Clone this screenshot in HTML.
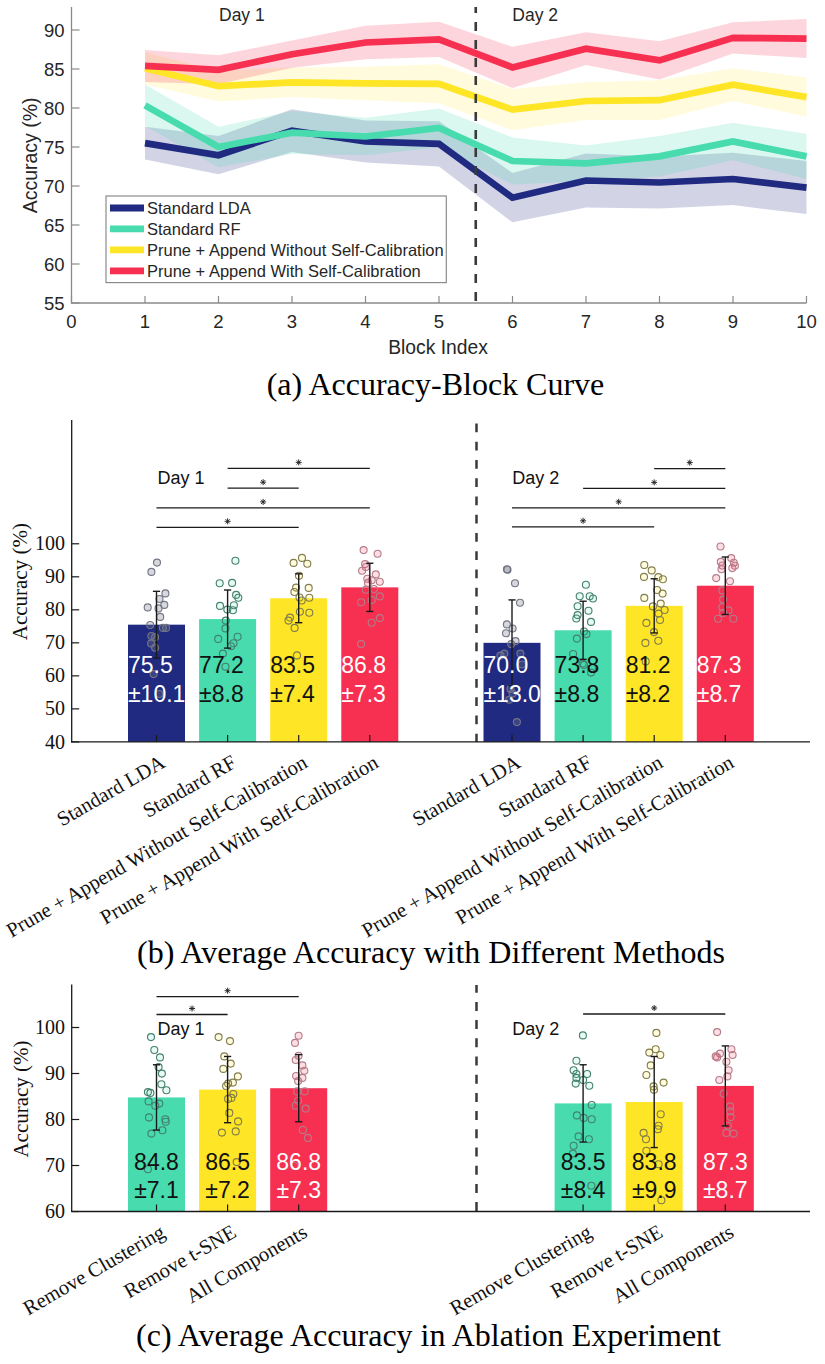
<!DOCTYPE html>
<html><head><meta charset="utf-8"><style>
html,body{margin:0;padding:0;background:#fff;}
body{width:825px;height:1364px;overflow:hidden;}
svg{display:block;}
</style></head><body>
<svg width="825" height="1364" viewBox="0 0 825 1364">
<rect width="825" height="1364" fill="#fff"/>
<g id="pa">
<polygon points="145.0,126.7 218.5,136.1 292.0,109.2 365.5,120.5 439.0,121.3 512.5,173.1 586.0,153.6 659.5,156.4 733.0,152.8 806.5,161.0 806.5,214.1 733.0,205.1 659.5,208.6 586.0,207.4 512.5,222.3 439.0,166.5 365.5,162.6 292.0,152.1 218.5,174.3 145.0,159.5" fill="#1f2a80" fill-opacity="0.2" stroke="none"/>
<polygon points="145.0,84.6 218.5,126.7 292.0,111.1 365.5,117.8 439.0,108.4 512.5,137.6 586.0,145.4 659.5,136.1 733.0,122.8 806.5,133.7 806.5,179.0 733.0,160.3 659.5,176.6 586.0,181.3 512.5,184.4 439.0,147.4 365.5,155.2 292.0,154.0 218.5,167.3 145.0,125.9" fill="#47dbae" fill-opacity="0.2" stroke="none"/>
<polygon points="145.0,52.2 218.5,71.0 292.0,67.4 365.5,66.7 439.0,64.3 512.5,88.9 586.0,82.3 659.5,80.3 733.0,68.2 806.5,77.6 806.5,116.6 733.0,101.0 659.5,120.1 586.0,119.7 512.5,130.2 439.0,103.3 365.5,100.2 292.0,97.1 218.5,101.4 145.0,84.2" fill="#fee526" fill-opacity="0.16" stroke="none"/>
<polygon points="145.0,49.9 218.5,55.3 292.0,40.5 365.5,25.7 439.0,21.8 512.5,46.8 586.0,32.3 659.5,41.3 733.0,22.2 806.5,19.1 806.5,58.1 733.0,53.4 659.5,79.5 586.0,65.1 512.5,88.1 439.0,56.9 365.5,59.2 292.0,67.8 218.5,84.2 145.0,81.9" fill="#f72f50" fill-opacity="0.2" stroke="none"/>
<polyline points="145.0,143.1 218.5,155.2 292.0,130.6 365.5,141.5 439.0,143.9 512.5,197.7 586.0,180.5 659.5,182.5 733.0,179.0 806.5,187.6" fill="none" stroke="#1f2a80" stroke-width="6.7" stroke-linejoin="miter"/>
<polyline points="145.0,105.3 218.5,147.0 292.0,132.6 365.5,136.5 439.0,127.9 512.5,161.0 586.0,163.4 659.5,156.4 733.0,141.5 806.5,156.4" fill="none" stroke="#47dbae" stroke-width="6.7" stroke-linejoin="miter"/>
<polyline points="145.0,68.2 218.5,86.2 292.0,82.3 365.5,83.4 439.0,83.8 512.5,109.6 586.0,101.0 659.5,100.2 733.0,84.6 806.5,97.1" fill="none" stroke="#fee526" stroke-width="6.7" stroke-linejoin="miter"/>
<polyline points="145.0,65.9 218.5,69.8 292.0,54.2 365.5,42.5 439.0,39.4 512.5,67.4 586.0,48.7 659.5,60.4 733.0,37.8 806.5,38.6" fill="none" stroke="#f72f50" stroke-width="6.7" stroke-linejoin="miter"/>
<line x1="475.75" y1="7.00" x2="475.75" y2="303.00" stroke="#3a3a3a" stroke-width="2.6" stroke-dasharray="9,9" stroke-dashoffset="3"/>
<line x1="71.50" y1="7.00" x2="71.50" y2="303.50" stroke="#8a8a8a" stroke-width="1.3" />
<line x1="71.00" y1="303.00" x2="806.50" y2="303.00" stroke="#8a8a8a" stroke-width="1.3" />
<line x1="71.50" y1="303.00" x2="79.50" y2="303.00" stroke="#8a8a8a" stroke-width="1.2" />
<text x="64.50" y="309.80" font-family='"Liberation Sans", sans-serif' font-size="18.5" text-anchor="end" fill="#262626" >55</text>
<line x1="71.50" y1="264.00" x2="79.50" y2="264.00" stroke="#8a8a8a" stroke-width="1.2" />
<text x="64.50" y="270.80" font-family='"Liberation Sans", sans-serif' font-size="18.5" text-anchor="end" fill="#262626" >60</text>
<line x1="71.50" y1="225.00" x2="79.50" y2="225.00" stroke="#8a8a8a" stroke-width="1.2" />
<text x="64.50" y="231.80" font-family='"Liberation Sans", sans-serif' font-size="18.5" text-anchor="end" fill="#262626" >65</text>
<line x1="71.50" y1="186.00" x2="79.50" y2="186.00" stroke="#8a8a8a" stroke-width="1.2" />
<text x="64.50" y="192.80" font-family='"Liberation Sans", sans-serif' font-size="18.5" text-anchor="end" fill="#262626" >70</text>
<line x1="71.50" y1="147.00" x2="79.50" y2="147.00" stroke="#8a8a8a" stroke-width="1.2" />
<text x="64.50" y="153.80" font-family='"Liberation Sans", sans-serif' font-size="18.5" text-anchor="end" fill="#262626" >75</text>
<line x1="71.50" y1="108.00" x2="79.50" y2="108.00" stroke="#8a8a8a" stroke-width="1.2" />
<text x="64.50" y="114.80" font-family='"Liberation Sans", sans-serif' font-size="18.5" text-anchor="end" fill="#262626" >80</text>
<line x1="71.50" y1="69.00" x2="79.50" y2="69.00" stroke="#8a8a8a" stroke-width="1.2" />
<text x="64.50" y="75.80" font-family='"Liberation Sans", sans-serif' font-size="18.5" text-anchor="end" fill="#262626" >85</text>
<line x1="71.50" y1="30.00" x2="79.50" y2="30.00" stroke="#8a8a8a" stroke-width="1.2" />
<text x="64.50" y="36.80" font-family='"Liberation Sans", sans-serif' font-size="18.5" text-anchor="end" fill="#262626" >90</text>
<line x1="71.50" y1="303.00" x2="71.50" y2="296.00" stroke="#8a8a8a" stroke-width="1.2" />
<text x="71.50" y="327.80" font-family='"Liberation Sans", sans-serif' font-size="18.5" text-anchor="middle" fill="#262626" >0</text>
<line x1="145.00" y1="303.00" x2="145.00" y2="296.00" stroke="#8a8a8a" stroke-width="1.2" />
<text x="145.00" y="327.80" font-family='"Liberation Sans", sans-serif' font-size="18.5" text-anchor="middle" fill="#262626" >1</text>
<line x1="218.50" y1="303.00" x2="218.50" y2="296.00" stroke="#8a8a8a" stroke-width="1.2" />
<text x="218.50" y="327.80" font-family='"Liberation Sans", sans-serif' font-size="18.5" text-anchor="middle" fill="#262626" >2</text>
<line x1="292.00" y1="303.00" x2="292.00" y2="296.00" stroke="#8a8a8a" stroke-width="1.2" />
<text x="292.00" y="327.80" font-family='"Liberation Sans", sans-serif' font-size="18.5" text-anchor="middle" fill="#262626" >3</text>
<line x1="365.50" y1="303.00" x2="365.50" y2="296.00" stroke="#8a8a8a" stroke-width="1.2" />
<text x="365.50" y="327.80" font-family='"Liberation Sans", sans-serif' font-size="18.5" text-anchor="middle" fill="#262626" >4</text>
<line x1="439.00" y1="303.00" x2="439.00" y2="296.00" stroke="#8a8a8a" stroke-width="1.2" />
<text x="439.00" y="327.80" font-family='"Liberation Sans", sans-serif' font-size="18.5" text-anchor="middle" fill="#262626" >5</text>
<line x1="512.50" y1="303.00" x2="512.50" y2="296.00" stroke="#8a8a8a" stroke-width="1.2" />
<text x="512.50" y="327.80" font-family='"Liberation Sans", sans-serif' font-size="18.5" text-anchor="middle" fill="#262626" >6</text>
<line x1="586.00" y1="303.00" x2="586.00" y2="296.00" stroke="#8a8a8a" stroke-width="1.2" />
<text x="586.00" y="327.80" font-family='"Liberation Sans", sans-serif' font-size="18.5" text-anchor="middle" fill="#262626" >7</text>
<line x1="659.50" y1="303.00" x2="659.50" y2="296.00" stroke="#8a8a8a" stroke-width="1.2" />
<text x="659.50" y="327.80" font-family='"Liberation Sans", sans-serif' font-size="18.5" text-anchor="middle" fill="#262626" >8</text>
<line x1="733.00" y1="303.00" x2="733.00" y2="296.00" stroke="#8a8a8a" stroke-width="1.2" />
<text x="733.00" y="327.80" font-family='"Liberation Sans", sans-serif' font-size="18.5" text-anchor="middle" fill="#262626" >9</text>
<line x1="806.50" y1="303.00" x2="806.50" y2="296.00" stroke="#8a8a8a" stroke-width="1.2" />
<text x="806.50" y="327.80" font-family='"Liberation Sans", sans-serif' font-size="18.5" text-anchor="middle" fill="#262626" >10</text>
<text x="438.00" y="354.20" font-family='"Liberation Sans", sans-serif' font-size="19.3" text-anchor="middle" fill="#262626" >Block Index</text>
<text x="37.00" y="155.40" font-family='"Liberation Sans", sans-serif' font-size="19.5" text-anchor="middle" fill="#262626" transform="rotate(-90 37 155.4)">Accuracy (%)</text>
<text x="219.00" y="20.70" font-family='"Liberation Sans", sans-serif' font-size="17.5" text-anchor="start" fill="#262626" >Day 1</text>
<text x="512.30" y="21.00" font-family='"Liberation Sans", sans-serif' font-size="17.5" text-anchor="start" fill="#262626" >Day 2</text>
<rect x="106" y="196" width="340.3" height="86.6" fill="#fff" stroke="#8c8c8c" stroke-width="1.2"/>
<line x1="110.00" y1="208.00" x2="144.00" y2="208.00" stroke="#1f2a80" stroke-width="6.8" />
<text x="147.00" y="214.10" font-family='"Liberation Sans", sans-serif' font-size="16.5" text-anchor="start" fill="#262626" >Standard LDA</text>
<line x1="110.00" y1="228.95" x2="144.00" y2="228.95" stroke="#47dbae" stroke-width="6.8" />
<text x="147.00" y="235.05" font-family='"Liberation Sans", sans-serif' font-size="16.5" text-anchor="start" fill="#262626" >Standard RF</text>
<line x1="110.00" y1="249.90" x2="144.00" y2="249.90" stroke="#fee526" stroke-width="6.8" />
<text x="147.00" y="256.00" font-family='"Liberation Sans", sans-serif' font-size="16.5" text-anchor="start" fill="#262626" >Prune + Append Without Self-Calibration</text>
<line x1="110.00" y1="270.85" x2="144.00" y2="270.85" stroke="#f72f50" stroke-width="6.8" />
<text x="147.00" y="276.95" font-family='"Liberation Sans", sans-serif' font-size="16.5" text-anchor="start" fill="#262626" >Prune + Append With Self-Calibration</text>
</g>
<text x="435.50" y="395.00" font-family='"Liberation Serif", serif' font-size="32" text-anchor="middle" fill="#000" >(a) Accuracy-Block Curve</text>
<rect x="128.00" y="624.68" width="57.0" height="117.22" fill="#1f2a80"/>
<rect x="199.10" y="619.07" width="57.0" height="122.83" fill="#47dbae"/>
<rect x="270.20" y="598.26" width="57.0" height="143.64" fill="#fee526"/>
<rect x="341.30" y="587.37" width="57.0" height="154.53" fill="#f72f50"/>
<rect x="483.50" y="642.84" width="57.0" height="99.06" fill="#1f2a80"/>
<rect x="554.60" y="630.29" width="57.0" height="111.61" fill="#47dbae"/>
<rect x="625.70" y="605.86" width="57.0" height="136.04" fill="#fee526"/>
<rect x="696.80" y="585.72" width="57.0" height="156.18" fill="#f72f50"/>
<circle cx="157.0" cy="562.6" r="3.5" fill="#7c7e90" fill-opacity="0.3" stroke="#737584" stroke-width="1.1"/>
<circle cx="151.4" cy="571.9" r="3.5" fill="#7c7e90" fill-opacity="0.3" stroke="#737584" stroke-width="1.1"/>
<circle cx="165.4" cy="593.4" r="3.5" fill="#7c7e90" fill-opacity="0.3" stroke="#737584" stroke-width="1.1"/>
<circle cx="159.5" cy="599.0" r="3.5" fill="#7c7e90" fill-opacity="0.3" stroke="#737584" stroke-width="1.1"/>
<circle cx="164.3" cy="604.9" r="3.5" fill="#7c7e90" fill-opacity="0.3" stroke="#737584" stroke-width="1.1"/>
<circle cx="147.7" cy="607.4" r="3.5" fill="#7c7e90" fill-opacity="0.3" stroke="#737584" stroke-width="1.1"/>
<circle cx="158.5" cy="608.4" r="3.5" fill="#7c7e90" fill-opacity="0.3" stroke="#737584" stroke-width="1.1"/>
<circle cx="160.2" cy="616.9" r="3.5" fill="#7c7e90" fill-opacity="0.3" stroke="#737584" stroke-width="1.1"/>
<circle cx="150.2" cy="625.0" r="3.5" fill="#7c7e90" fill-opacity="0.3" stroke="#737584" stroke-width="1.1"/>
<circle cx="162.9" cy="627.9" r="3.5" fill="#7c7e90" fill-opacity="0.3" stroke="#737584" stroke-width="1.1"/>
<circle cx="166.1" cy="627.9" r="3.5" fill="#7c7e90" fill-opacity="0.3" stroke="#737584" stroke-width="1.1"/>
<circle cx="151.4" cy="636.0" r="3.5" fill="#7c7e90" fill-opacity="0.3" stroke="#737584" stroke-width="1.1"/>
<circle cx="155.1" cy="637.2" r="3.5" fill="#7c7e90" fill-opacity="0.3" stroke="#737584" stroke-width="1.1"/>
<circle cx="151.1" cy="643.6" r="3.5" fill="#7c7e90" fill-opacity="0.3" stroke="#737584" stroke-width="1.1"/>
<circle cx="155.1" cy="647.7" r="3.5" fill="#7c7e90" fill-opacity="0.3" stroke="#737584" stroke-width="1.1"/>
<circle cx="153.6" cy="674.1" r="3.5" fill="#7c7e90" fill-opacity="0.3" stroke="#737584" stroke-width="1.1"/>
<circle cx="159.5" cy="694.0" r="3.5" fill="#7c7e90" fill-opacity="0.3" stroke="#737584" stroke-width="1.1"/>
<circle cx="235.4" cy="560.8" r="3.5" fill="#47dbae" fill-opacity="0.13" stroke="#45806c" stroke-width="1.1"/>
<circle cx="219.7" cy="583.2" r="3.5" fill="#47dbae" fill-opacity="0.13" stroke="#45806c" stroke-width="1.1"/>
<circle cx="232.1" cy="582.9" r="3.5" fill="#47dbae" fill-opacity="0.13" stroke="#45806c" stroke-width="1.1"/>
<circle cx="236.1" cy="594.9" r="3.5" fill="#47dbae" fill-opacity="0.13" stroke="#45806c" stroke-width="1.1"/>
<circle cx="238.3" cy="597.8" r="3.5" fill="#47dbae" fill-opacity="0.13" stroke="#45806c" stroke-width="1.1"/>
<circle cx="220.0" cy="605.9" r="3.5" fill="#47dbae" fill-opacity="0.13" stroke="#45806c" stroke-width="1.1"/>
<circle cx="233.9" cy="605.2" r="3.5" fill="#47dbae" fill-opacity="0.13" stroke="#45806c" stroke-width="1.1"/>
<circle cx="227.3" cy="609.6" r="3.5" fill="#47dbae" fill-opacity="0.13" stroke="#45806c" stroke-width="1.1"/>
<circle cx="232.9" cy="610.3" r="3.5" fill="#47dbae" fill-opacity="0.13" stroke="#45806c" stroke-width="1.1"/>
<circle cx="225.8" cy="620.6" r="3.5" fill="#47dbae" fill-opacity="0.13" stroke="#45806c" stroke-width="1.1"/>
<circle cx="225.5" cy="628.4" r="3.5" fill="#47dbae" fill-opacity="0.13" stroke="#45806c" stroke-width="1.1"/>
<circle cx="218.2" cy="638.9" r="3.5" fill="#47dbae" fill-opacity="0.13" stroke="#45806c" stroke-width="1.1"/>
<circle cx="237.6" cy="636.7" r="3.5" fill="#47dbae" fill-opacity="0.13" stroke="#45806c" stroke-width="1.1"/>
<circle cx="233.5" cy="643.3" r="3.5" fill="#47dbae" fill-opacity="0.13" stroke="#45806c" stroke-width="1.1"/>
<circle cx="231.0" cy="646.3" r="3.5" fill="#47dbae" fill-opacity="0.13" stroke="#45806c" stroke-width="1.1"/>
<circle cx="222.9" cy="653.6" r="3.5" fill="#47dbae" fill-opacity="0.13" stroke="#45806c" stroke-width="1.1"/>
<circle cx="225.5" cy="666.8" r="3.5" fill="#47dbae" fill-opacity="0.13" stroke="#45806c" stroke-width="1.1"/>
<circle cx="293.6" cy="562.9" r="3.5" fill="#fee526" fill-opacity="0.16" stroke="#807c4c" stroke-width="1.1"/>
<circle cx="302.0" cy="557.9" r="3.5" fill="#fee526" fill-opacity="0.16" stroke="#807c4c" stroke-width="1.1"/>
<circle cx="307.3" cy="563.8" r="3.5" fill="#fee526" fill-opacity="0.16" stroke="#807c4c" stroke-width="1.1"/>
<circle cx="299.0" cy="575.8" r="3.5" fill="#fee526" fill-opacity="0.16" stroke="#807c4c" stroke-width="1.1"/>
<circle cx="296.1" cy="587.6" r="3.5" fill="#fee526" fill-opacity="0.16" stroke="#807c4c" stroke-width="1.1"/>
<circle cx="308.7" cy="587.9" r="3.5" fill="#fee526" fill-opacity="0.16" stroke="#807c4c" stroke-width="1.1"/>
<circle cx="294.4" cy="592.0" r="3.5" fill="#fee526" fill-opacity="0.16" stroke="#807c4c" stroke-width="1.1"/>
<circle cx="299.5" cy="597.5" r="3.5" fill="#fee526" fill-opacity="0.16" stroke="#807c4c" stroke-width="1.1"/>
<circle cx="309.3" cy="597.8" r="3.5" fill="#fee526" fill-opacity="0.16" stroke="#807c4c" stroke-width="1.1"/>
<circle cx="301.7" cy="600.5" r="3.5" fill="#fee526" fill-opacity="0.16" stroke="#807c4c" stroke-width="1.1"/>
<circle cx="299.9" cy="611.8" r="3.5" fill="#fee526" fill-opacity="0.16" stroke="#807c4c" stroke-width="1.1"/>
<circle cx="309.3" cy="612.8" r="3.5" fill="#fee526" fill-opacity="0.16" stroke="#807c4c" stroke-width="1.1"/>
<circle cx="290.0" cy="617.6" r="3.5" fill="#fee526" fill-opacity="0.16" stroke="#807c4c" stroke-width="1.1"/>
<circle cx="288.5" cy="620.6" r="3.5" fill="#fee526" fill-opacity="0.16" stroke="#807c4c" stroke-width="1.1"/>
<circle cx="294.6" cy="627.9" r="3.5" fill="#fee526" fill-opacity="0.16" stroke="#807c4c" stroke-width="1.1"/>
<circle cx="297.0" cy="655.4" r="3.5" fill="#fee526" fill-opacity="0.16" stroke="#807c4c" stroke-width="1.1"/>
<circle cx="363.6" cy="550.1" r="3.5" fill="#f72f50" fill-opacity="0.16" stroke="#b47c8a" stroke-width="1.1"/>
<circle cx="377.6" cy="553.8" r="3.5" fill="#f72f50" fill-opacity="0.16" stroke="#b47c8a" stroke-width="1.1"/>
<circle cx="365.1" cy="564.1" r="3.5" fill="#f72f50" fill-opacity="0.16" stroke="#b47c8a" stroke-width="1.1"/>
<circle cx="365.8" cy="567.0" r="3.5" fill="#f72f50" fill-opacity="0.16" stroke="#b47c8a" stroke-width="1.1"/>
<circle cx="362.1" cy="570.7" r="3.5" fill="#f72f50" fill-opacity="0.16" stroke="#b47c8a" stroke-width="1.1"/>
<circle cx="375.8" cy="574.4" r="3.5" fill="#f72f50" fill-opacity="0.16" stroke="#b47c8a" stroke-width="1.1"/>
<circle cx="367.3" cy="578.8" r="3.5" fill="#f72f50" fill-opacity="0.16" stroke="#b47c8a" stroke-width="1.1"/>
<circle cx="371.7" cy="580.2" r="3.5" fill="#f72f50" fill-opacity="0.16" stroke="#b47c8a" stroke-width="1.1"/>
<circle cx="379.8" cy="581.7" r="3.5" fill="#f72f50" fill-opacity="0.16" stroke="#b47c8a" stroke-width="1.1"/>
<circle cx="368.0" cy="582.9" r="3.5" fill="#f72f50" fill-opacity="0.16" stroke="#b47c8a" stroke-width="1.1"/>
<circle cx="365.8" cy="589.8" r="3.5" fill="#f72f50" fill-opacity="0.16" stroke="#b47c8a" stroke-width="1.1"/>
<circle cx="373.9" cy="589.0" r="3.5" fill="#f72f50" fill-opacity="0.16" stroke="#b47c8a" stroke-width="1.1"/>
<circle cx="379.8" cy="596.4" r="3.5" fill="#f72f50" fill-opacity="0.16" stroke="#b47c8a" stroke-width="1.1"/>
<circle cx="371.7" cy="600.0" r="3.5" fill="#f72f50" fill-opacity="0.16" stroke="#b47c8a" stroke-width="1.1"/>
<circle cx="361.1" cy="602.2" r="3.5" fill="#f72f50" fill-opacity="0.16" stroke="#b47c8a" stroke-width="1.1"/>
<circle cx="379.8" cy="618.1" r="3.5" fill="#f72f50" fill-opacity="0.16" stroke="#b47c8a" stroke-width="1.1"/>
<circle cx="371.7" cy="622.8" r="3.5" fill="#f72f50" fill-opacity="0.16" stroke="#b47c8a" stroke-width="1.1"/>
<circle cx="361.1" cy="644.1" r="3.5" fill="#f72f50" fill-opacity="0.16" stroke="#b47c8a" stroke-width="1.1"/>
<circle cx="506.9" cy="569.2" r="3.5" fill="#7c7e90" fill-opacity="0.3" stroke="#737584" stroke-width="1.1"/>
<circle cx="507.5" cy="569.8" r="3.5" fill="#7c7e90" fill-opacity="0.3" stroke="#737584" stroke-width="1.1"/>
<circle cx="515.0" cy="583.3" r="3.5" fill="#7c7e90" fill-opacity="0.3" stroke="#737584" stroke-width="1.1"/>
<circle cx="520.0" cy="602.7" r="3.5" fill="#7c7e90" fill-opacity="0.3" stroke="#737584" stroke-width="1.1"/>
<circle cx="506.9" cy="624.4" r="3.5" fill="#7c7e90" fill-opacity="0.3" stroke="#737584" stroke-width="1.1"/>
<circle cx="512.6" cy="628.5" r="3.5" fill="#7c7e90" fill-opacity="0.3" stroke="#737584" stroke-width="1.1"/>
<circle cx="506.0" cy="633.3" r="3.5" fill="#7c7e90" fill-opacity="0.3" stroke="#737584" stroke-width="1.1"/>
<circle cx="515.5" cy="641.1" r="3.5" fill="#7c7e90" fill-opacity="0.3" stroke="#737584" stroke-width="1.1"/>
<circle cx="511.2" cy="644.1" r="3.5" fill="#7c7e90" fill-opacity="0.3" stroke="#737584" stroke-width="1.1"/>
<circle cx="504.4" cy="653.6" r="3.5" fill="#7c7e90" fill-opacity="0.3" stroke="#737584" stroke-width="1.1"/>
<circle cx="520.4" cy="653.6" r="3.5" fill="#7c7e90" fill-opacity="0.3" stroke="#737584" stroke-width="1.1"/>
<circle cx="500.4" cy="655.6" r="3.5" fill="#7c7e90" fill-opacity="0.3" stroke="#737584" stroke-width="1.1"/>
<circle cx="522.0" cy="664.5" r="3.5" fill="#7c7e90" fill-opacity="0.3" stroke="#737584" stroke-width="1.1"/>
<circle cx="510.5" cy="688.9" r="3.5" fill="#7c7e90" fill-opacity="0.3" stroke="#737584" stroke-width="1.1"/>
<circle cx="512.6" cy="693.6" r="3.5" fill="#7c7e90" fill-opacity="0.3" stroke="#737584" stroke-width="1.1"/>
<circle cx="509.2" cy="699.7" r="3.5" fill="#7c7e90" fill-opacity="0.3" stroke="#737584" stroke-width="1.1"/>
<circle cx="516.9" cy="722.1" r="3.5" fill="#7c7e90" fill-opacity="0.3" stroke="#737584" stroke-width="1.1"/>
<circle cx="585.9" cy="584.7" r="3.5" fill="#47dbae" fill-opacity="0.13" stroke="#45806c" stroke-width="1.1"/>
<circle cx="579.7" cy="596.3" r="3.5" fill="#47dbae" fill-opacity="0.13" stroke="#45806c" stroke-width="1.1"/>
<circle cx="589.7" cy="596.3" r="3.5" fill="#47dbae" fill-opacity="0.13" stroke="#45806c" stroke-width="1.1"/>
<circle cx="593.0" cy="598.5" r="3.5" fill="#47dbae" fill-opacity="0.13" stroke="#45806c" stroke-width="1.1"/>
<circle cx="577.6" cy="606.2" r="3.5" fill="#47dbae" fill-opacity="0.13" stroke="#45806c" stroke-width="1.1"/>
<circle cx="588.5" cy="610.8" r="3.5" fill="#47dbae" fill-opacity="0.13" stroke="#45806c" stroke-width="1.1"/>
<circle cx="577.6" cy="615.1" r="3.5" fill="#47dbae" fill-opacity="0.13" stroke="#45806c" stroke-width="1.1"/>
<circle cx="576.3" cy="618.5" r="3.5" fill="#47dbae" fill-opacity="0.13" stroke="#45806c" stroke-width="1.1"/>
<circle cx="591.0" cy="621.9" r="3.5" fill="#47dbae" fill-opacity="0.13" stroke="#45806c" stroke-width="1.1"/>
<circle cx="584.0" cy="631.5" r="3.5" fill="#47dbae" fill-opacity="0.13" stroke="#45806c" stroke-width="1.1"/>
<circle cx="586.5" cy="634.1" r="3.5" fill="#47dbae" fill-opacity="0.13" stroke="#45806c" stroke-width="1.1"/>
<circle cx="576.9" cy="638.6" r="3.5" fill="#47dbae" fill-opacity="0.13" stroke="#45806c" stroke-width="1.1"/>
<circle cx="573.1" cy="654.0" r="3.5" fill="#47dbae" fill-opacity="0.13" stroke="#45806c" stroke-width="1.1"/>
<circle cx="582.7" cy="663.6" r="3.5" fill="#47dbae" fill-opacity="0.13" stroke="#45806c" stroke-width="1.1"/>
<circle cx="584.0" cy="664.9" r="3.5" fill="#47dbae" fill-opacity="0.13" stroke="#45806c" stroke-width="1.1"/>
<circle cx="591.0" cy="672.6" r="3.5" fill="#47dbae" fill-opacity="0.13" stroke="#45806c" stroke-width="1.1"/>
<circle cx="592.0" cy="668.0" r="3.5" fill="#47dbae" fill-opacity="0.13" stroke="#45806c" stroke-width="1.1"/>
<circle cx="644.3" cy="565.0" r="3.5" fill="#fee526" fill-opacity="0.16" stroke="#807c4c" stroke-width="1.1"/>
<circle cx="651.7" cy="570.4" r="3.5" fill="#fee526" fill-opacity="0.16" stroke="#807c4c" stroke-width="1.1"/>
<circle cx="644.0" cy="576.9" r="3.5" fill="#fee526" fill-opacity="0.16" stroke="#807c4c" stroke-width="1.1"/>
<circle cx="658.3" cy="577.1" r="3.5" fill="#fee526" fill-opacity="0.16" stroke="#807c4c" stroke-width="1.1"/>
<circle cx="662.9" cy="579.3" r="3.5" fill="#fee526" fill-opacity="0.16" stroke="#807c4c" stroke-width="1.1"/>
<circle cx="657.1" cy="590.0" r="3.5" fill="#fee526" fill-opacity="0.16" stroke="#807c4c" stroke-width="1.1"/>
<circle cx="662.6" cy="593.6" r="3.5" fill="#fee526" fill-opacity="0.16" stroke="#807c4c" stroke-width="1.1"/>
<circle cx="644.3" cy="597.9" r="3.5" fill="#fee526" fill-opacity="0.16" stroke="#807c4c" stroke-width="1.1"/>
<circle cx="660.7" cy="603.6" r="3.5" fill="#fee526" fill-opacity="0.16" stroke="#807c4c" stroke-width="1.1"/>
<circle cx="652.9" cy="606.4" r="3.5" fill="#fee526" fill-opacity="0.16" stroke="#807c4c" stroke-width="1.1"/>
<circle cx="664.6" cy="610.0" r="3.5" fill="#fee526" fill-opacity="0.16" stroke="#807c4c" stroke-width="1.1"/>
<circle cx="658.6" cy="613.6" r="3.5" fill="#fee526" fill-opacity="0.16" stroke="#807c4c" stroke-width="1.1"/>
<circle cx="660.0" cy="620.0" r="3.5" fill="#fee526" fill-opacity="0.16" stroke="#807c4c" stroke-width="1.1"/>
<circle cx="646.4" cy="622.9" r="3.5" fill="#fee526" fill-opacity="0.16" stroke="#807c4c" stroke-width="1.1"/>
<circle cx="654.0" cy="632.1" r="3.5" fill="#fee526" fill-opacity="0.16" stroke="#807c4c" stroke-width="1.1"/>
<circle cx="645.4" cy="642.9" r="3.5" fill="#fee526" fill-opacity="0.16" stroke="#807c4c" stroke-width="1.1"/>
<circle cx="658.3" cy="640.7" r="3.5" fill="#fee526" fill-opacity="0.16" stroke="#807c4c" stroke-width="1.1"/>
<circle cx="645.7" cy="661.4" r="3.5" fill="#fee526" fill-opacity="0.16" stroke="#807c4c" stroke-width="1.1"/>
<circle cx="720.5" cy="546.5" r="3.5" fill="#f72f50" fill-opacity="0.16" stroke="#b47c8a" stroke-width="1.1"/>
<circle cx="731.2" cy="558.1" r="3.5" fill="#f72f50" fill-opacity="0.16" stroke="#b47c8a" stroke-width="1.1"/>
<circle cx="720.8" cy="561.9" r="3.5" fill="#f72f50" fill-opacity="0.16" stroke="#b47c8a" stroke-width="1.1"/>
<circle cx="733.8" cy="562.7" r="3.5" fill="#f72f50" fill-opacity="0.16" stroke="#b47c8a" stroke-width="1.1"/>
<circle cx="722.3" cy="565.5" r="3.5" fill="#f72f50" fill-opacity="0.16" stroke="#b47c8a" stroke-width="1.1"/>
<circle cx="734.9" cy="565.8" r="3.5" fill="#f72f50" fill-opacity="0.16" stroke="#b47c8a" stroke-width="1.1"/>
<circle cx="732.3" cy="568.1" r="3.5" fill="#f72f50" fill-opacity="0.16" stroke="#b47c8a" stroke-width="1.1"/>
<circle cx="721.5" cy="569.2" r="3.5" fill="#f72f50" fill-opacity="0.16" stroke="#b47c8a" stroke-width="1.1"/>
<circle cx="716.2" cy="578.1" r="3.5" fill="#f72f50" fill-opacity="0.16" stroke="#b47c8a" stroke-width="1.1"/>
<circle cx="730.0" cy="581.2" r="3.5" fill="#f72f50" fill-opacity="0.16" stroke="#b47c8a" stroke-width="1.1"/>
<circle cx="722.3" cy="590.4" r="3.5" fill="#f72f50" fill-opacity="0.16" stroke="#b47c8a" stroke-width="1.1"/>
<circle cx="723.1" cy="599.6" r="3.5" fill="#f72f50" fill-opacity="0.16" stroke="#b47c8a" stroke-width="1.1"/>
<circle cx="722.3" cy="607.3" r="3.5" fill="#f72f50" fill-opacity="0.16" stroke="#b47c8a" stroke-width="1.1"/>
<circle cx="728.5" cy="610.4" r="3.5" fill="#f72f50" fill-opacity="0.16" stroke="#b47c8a" stroke-width="1.1"/>
<circle cx="718.0" cy="618.8" r="3.5" fill="#f72f50" fill-opacity="0.16" stroke="#b47c8a" stroke-width="1.1"/>
<circle cx="733.4" cy="618.8" r="3.5" fill="#f72f50" fill-opacity="0.16" stroke="#b47c8a" stroke-width="1.1"/>
<circle cx="723.0" cy="613.0" r="3.5" fill="#f72f50" fill-opacity="0.16" stroke="#b47c8a" stroke-width="1.1"/>
<line x1="156.50" y1="591.33" x2="156.50" y2="658.03" stroke="#1a1a1a" stroke-width="1.4" />
<line x1="152.90" y1="591.33" x2="160.10" y2="591.33" stroke="#1a1a1a" stroke-width="1.4" />
<line x1="152.90" y1="658.03" x2="160.10" y2="658.03" stroke="#1a1a1a" stroke-width="1.4" />
<line x1="227.60" y1="590.01" x2="227.60" y2="648.12" stroke="#1a1a1a" stroke-width="1.4" />
<line x1="224.00" y1="590.01" x2="231.20" y2="590.01" stroke="#1a1a1a" stroke-width="1.4" />
<line x1="224.00" y1="648.12" x2="231.20" y2="648.12" stroke="#1a1a1a" stroke-width="1.4" />
<line x1="298.70" y1="573.83" x2="298.70" y2="622.70" stroke="#1a1a1a" stroke-width="1.4" />
<line x1="295.10" y1="573.83" x2="302.30" y2="573.83" stroke="#1a1a1a" stroke-width="1.4" />
<line x1="295.10" y1="622.70" x2="302.30" y2="622.70" stroke="#1a1a1a" stroke-width="1.4" />
<line x1="369.80" y1="563.26" x2="369.80" y2="611.47" stroke="#1a1a1a" stroke-width="1.4" />
<line x1="366.20" y1="563.26" x2="373.40" y2="563.26" stroke="#1a1a1a" stroke-width="1.4" />
<line x1="366.20" y1="611.47" x2="373.40" y2="611.47" stroke="#1a1a1a" stroke-width="1.4" />
<line x1="512.00" y1="599.91" x2="512.00" y2="685.77" stroke="#1a1a1a" stroke-width="1.4" />
<line x1="508.40" y1="599.91" x2="515.60" y2="599.91" stroke="#1a1a1a" stroke-width="1.4" />
<line x1="508.40" y1="685.77" x2="515.60" y2="685.77" stroke="#1a1a1a" stroke-width="1.4" />
<line x1="583.10" y1="601.23" x2="583.10" y2="659.35" stroke="#1a1a1a" stroke-width="1.4" />
<line x1="579.50" y1="601.23" x2="586.70" y2="601.23" stroke="#1a1a1a" stroke-width="1.4" />
<line x1="579.50" y1="659.35" x2="586.70" y2="659.35" stroke="#1a1a1a" stroke-width="1.4" />
<line x1="654.20" y1="578.78" x2="654.20" y2="632.93" stroke="#1a1a1a" stroke-width="1.4" />
<line x1="650.60" y1="578.78" x2="657.80" y2="578.78" stroke="#1a1a1a" stroke-width="1.4" />
<line x1="650.60" y1="632.93" x2="657.80" y2="632.93" stroke="#1a1a1a" stroke-width="1.4" />
<line x1="725.30" y1="556.99" x2="725.30" y2="614.44" stroke="#1a1a1a" stroke-width="1.4" />
<line x1="721.70" y1="556.99" x2="728.90" y2="556.99" stroke="#1a1a1a" stroke-width="1.4" />
<line x1="721.70" y1="614.44" x2="728.90" y2="614.44" stroke="#1a1a1a" stroke-width="1.4" />
<text x="128.00" y="673.30" font-family='"Liberation Sans", sans-serif' font-size="23" text-anchor="start" fill="#ffffff" >75.5</text>
<text x="128.00" y="701.80" font-family='"Liberation Sans", sans-serif' font-size="23" text-anchor="start" fill="#ffffff" >±10.1</text>
<text x="199.10" y="673.30" font-family='"Liberation Sans", sans-serif' font-size="23" text-anchor="start" fill="#111111" >77.2</text>
<text x="199.10" y="701.80" font-family='"Liberation Sans", sans-serif' font-size="23" text-anchor="start" fill="#111111" >±8.8</text>
<text x="270.20" y="673.30" font-family='"Liberation Sans", sans-serif' font-size="23" text-anchor="start" fill="#111111" >83.5</text>
<text x="270.20" y="701.80" font-family='"Liberation Sans", sans-serif' font-size="23" text-anchor="start" fill="#111111" >±7.4</text>
<text x="341.30" y="673.30" font-family='"Liberation Sans", sans-serif' font-size="23" text-anchor="start" fill="#ffffff" >86.8</text>
<text x="341.30" y="701.80" font-family='"Liberation Sans", sans-serif' font-size="23" text-anchor="start" fill="#ffffff" >±7.3</text>
<text x="483.50" y="673.30" font-family='"Liberation Sans", sans-serif' font-size="23" text-anchor="start" fill="#ffffff" >70.0</text>
<text x="483.50" y="701.80" font-family='"Liberation Sans", sans-serif' font-size="23" text-anchor="start" fill="#ffffff" >±13.0</text>
<text x="554.60" y="673.30" font-family='"Liberation Sans", sans-serif' font-size="23" text-anchor="start" fill="#111111" >73.8</text>
<text x="554.60" y="701.80" font-family='"Liberation Sans", sans-serif' font-size="23" text-anchor="start" fill="#111111" >±8.8</text>
<text x="625.70" y="673.30" font-family='"Liberation Sans", sans-serif' font-size="23" text-anchor="start" fill="#111111" >81.2</text>
<text x="625.70" y="701.80" font-family='"Liberation Sans", sans-serif' font-size="23" text-anchor="start" fill="#111111" >±8.2</text>
<text x="696.80" y="673.30" font-family='"Liberation Sans", sans-serif' font-size="23" text-anchor="start" fill="#ffffff" >87.3</text>
<text x="696.80" y="701.80" font-family='"Liberation Sans", sans-serif' font-size="23" text-anchor="start" fill="#ffffff" >±8.7</text>
<line x1="227.60" y1="468.40" x2="369.80" y2="468.40" stroke="#1a1a1a" stroke-width="1.3" />
<g stroke="#222" stroke-width="0.95"><line x1="295.70" y1="462.40" x2="301.70" y2="462.40"/><line x1="298.70" y1="459.40" x2="298.70" y2="465.40"/><line x1="296.60" y1="460.30" x2="300.80" y2="464.50"/><line x1="296.60" y1="464.50" x2="300.80" y2="460.30"/></g>
<line x1="227.60" y1="488.20" x2="298.70" y2="488.20" stroke="#1a1a1a" stroke-width="1.3" />
<g stroke="#222" stroke-width="0.95"><line x1="260.15" y1="482.20" x2="266.15" y2="482.20"/><line x1="263.15" y1="479.20" x2="263.15" y2="485.20"/><line x1="261.05" y1="480.10" x2="265.25" y2="484.30"/><line x1="261.05" y1="484.30" x2="265.25" y2="480.10"/></g>
<line x1="156.50" y1="507.90" x2="369.80" y2="507.90" stroke="#1a1a1a" stroke-width="1.3" />
<g stroke="#222" stroke-width="0.95"><line x1="260.15" y1="501.90" x2="266.15" y2="501.90"/><line x1="263.15" y1="498.90" x2="263.15" y2="504.90"/><line x1="261.05" y1="499.80" x2="265.25" y2="504.00"/><line x1="261.05" y1="504.00" x2="265.25" y2="499.80"/></g>
<line x1="156.50" y1="527.30" x2="298.70" y2="527.30" stroke="#1a1a1a" stroke-width="1.3" />
<g stroke="#222" stroke-width="0.95"><line x1="224.60" y1="521.30" x2="230.60" y2="521.30"/><line x1="227.60" y1="518.30" x2="227.60" y2="524.30"/><line x1="225.50" y1="519.20" x2="229.70" y2="523.40"/><line x1="225.50" y1="523.40" x2="229.70" y2="519.20"/></g>
<line x1="654.20" y1="468.60" x2="725.30" y2="468.60" stroke="#1a1a1a" stroke-width="1.3" />
<g stroke="#222" stroke-width="0.95"><line x1="686.75" y1="462.60" x2="692.75" y2="462.60"/><line x1="689.75" y1="459.60" x2="689.75" y2="465.60"/><line x1="687.65" y1="460.50" x2="691.85" y2="464.70"/><line x1="687.65" y1="464.70" x2="691.85" y2="460.50"/></g>
<line x1="583.10" y1="488.40" x2="725.30" y2="488.40" stroke="#1a1a1a" stroke-width="1.3" />
<g stroke="#222" stroke-width="0.95"><line x1="651.20" y1="482.40" x2="657.20" y2="482.40"/><line x1="654.20" y1="479.40" x2="654.20" y2="485.40"/><line x1="652.10" y1="480.30" x2="656.30" y2="484.50"/><line x1="652.10" y1="484.50" x2="656.30" y2="480.30"/></g>
<line x1="512.00" y1="507.80" x2="725.30" y2="507.80" stroke="#1a1a1a" stroke-width="1.3" />
<g stroke="#222" stroke-width="0.95"><line x1="615.65" y1="501.80" x2="621.65" y2="501.80"/><line x1="618.65" y1="498.80" x2="618.65" y2="504.80"/><line x1="616.55" y1="499.70" x2="620.75" y2="503.90"/><line x1="616.55" y1="503.90" x2="620.75" y2="499.70"/></g>
<line x1="512.00" y1="526.80" x2="654.20" y2="526.80" stroke="#1a1a1a" stroke-width="1.3" />
<g stroke="#222" stroke-width="0.95"><line x1="580.10" y1="520.80" x2="586.10" y2="520.80"/><line x1="583.10" y1="517.80" x2="583.10" y2="523.80"/><line x1="581.00" y1="518.70" x2="585.20" y2="522.90"/><line x1="581.00" y1="522.90" x2="585.20" y2="518.70"/></g>
<line x1="476.50" y1="423.50" x2="476.50" y2="741.90" stroke="#3a3a3a" stroke-width="2.5" stroke-dasharray="8.8 9.45" stroke-dashoffset="0"/>
<line x1="71.70" y1="420.00" x2="71.70" y2="742.50" stroke="#1a1a1a" stroke-width="1.3" />
<line x1="71.10" y1="741.90" x2="810.00" y2="741.90" stroke="#1a1a1a" stroke-width="1.3" />
<line x1="71.70" y1="741.90" x2="79.20" y2="741.90" stroke="#1a1a1a" stroke-width="1.2" />
<text x="65.00" y="748.50" font-family='"Liberation Serif", serif' font-size="20" text-anchor="end" fill="#111" >40</text>
<line x1="71.70" y1="708.88" x2="79.20" y2="708.88" stroke="#1a1a1a" stroke-width="1.2" />
<text x="65.00" y="715.48" font-family='"Liberation Serif", serif' font-size="20" text-anchor="end" fill="#111" >50</text>
<line x1="71.70" y1="675.86" x2="79.20" y2="675.86" stroke="#1a1a1a" stroke-width="1.2" />
<text x="65.00" y="682.46" font-family='"Liberation Serif", serif' font-size="20" text-anchor="end" fill="#111" >60</text>
<line x1="71.70" y1="642.84" x2="79.20" y2="642.84" stroke="#1a1a1a" stroke-width="1.2" />
<text x="65.00" y="649.44" font-family='"Liberation Serif", serif' font-size="20" text-anchor="end" fill="#111" >70</text>
<line x1="71.70" y1="609.82" x2="79.20" y2="609.82" stroke="#1a1a1a" stroke-width="1.2" />
<text x="65.00" y="616.42" font-family='"Liberation Serif", serif' font-size="20" text-anchor="end" fill="#111" >80</text>
<line x1="71.70" y1="576.80" x2="79.20" y2="576.80" stroke="#1a1a1a" stroke-width="1.2" />
<text x="65.00" y="583.40" font-family='"Liberation Serif", serif' font-size="20" text-anchor="end" fill="#111" >90</text>
<line x1="71.70" y1="543.78" x2="79.20" y2="543.78" stroke="#1a1a1a" stroke-width="1.2" />
<text x="65.00" y="550.38" font-family='"Liberation Serif", serif' font-size="20" text-anchor="end" fill="#111" >100</text>
<line x1="156.50" y1="741.90" x2="156.50" y2="734.90" stroke="#1a1a1a" stroke-width="1.2" />
<line x1="227.60" y1="741.90" x2="227.60" y2="734.90" stroke="#1a1a1a" stroke-width="1.2" />
<line x1="298.70" y1="741.90" x2="298.70" y2="734.90" stroke="#1a1a1a" stroke-width="1.2" />
<line x1="369.80" y1="741.90" x2="369.80" y2="734.90" stroke="#1a1a1a" stroke-width="1.2" />
<line x1="512.00" y1="741.90" x2="512.00" y2="734.90" stroke="#1a1a1a" stroke-width="1.2" />
<line x1="583.10" y1="741.90" x2="583.10" y2="734.90" stroke="#1a1a1a" stroke-width="1.2" />
<line x1="654.20" y1="741.90" x2="654.20" y2="734.90" stroke="#1a1a1a" stroke-width="1.2" />
<line x1="725.30" y1="741.90" x2="725.30" y2="734.90" stroke="#1a1a1a" stroke-width="1.2" />
<text x="166.50" y="766.40" font-family='"Liberation Serif", serif' font-size="20.6" text-anchor="end" fill="#111" transform="rotate(-30 166.50 766.40)">Standard LDA</text>
<text x="237.60" y="766.40" font-family='"Liberation Serif", serif' font-size="20.6" text-anchor="end" fill="#111" transform="rotate(-30 237.60 766.40)">Standard RF</text>
<text x="308.70" y="766.40" font-family='"Liberation Serif", serif' font-size="20.6" text-anchor="end" fill="#111" transform="rotate(-30 308.70 766.40)">Prune + Append Without Self-Calibration</text>
<text x="379.80" y="766.40" font-family='"Liberation Serif", serif' font-size="20.6" text-anchor="end" fill="#111" transform="rotate(-30 379.80 766.40)">Prune + Append With Self-Calibration</text>
<text x="522.00" y="766.40" font-family='"Liberation Serif", serif' font-size="20.6" text-anchor="end" fill="#111" transform="rotate(-30 522.00 766.40)">Standard LDA</text>
<text x="593.10" y="766.40" font-family='"Liberation Serif", serif' font-size="20.6" text-anchor="end" fill="#111" transform="rotate(-30 593.10 766.40)">Standard RF</text>
<text x="664.20" y="766.40" font-family='"Liberation Serif", serif' font-size="20.6" text-anchor="end" fill="#111" transform="rotate(-30 664.20 766.40)">Prune + Append Without Self-Calibration</text>
<text x="735.30" y="766.40" font-family='"Liberation Serif", serif' font-size="20.6" text-anchor="end" fill="#111" transform="rotate(-30 735.30 766.40)">Prune + Append With Self-Calibration</text>
<text x="27.50" y="581.70" font-family='"Liberation Serif", serif' font-size="21" text-anchor="middle" fill="#111" transform="rotate(-90 27.5 581.7)">Accuracy (%)</text>
<text x="157.50" y="484.00" font-family='"Liberation Sans", sans-serif' font-size="18" text-anchor="start" fill="#111" >Day 1</text>
<text x="512.30" y="484.00" font-family='"Liberation Sans", sans-serif' font-size="18" text-anchor="start" fill="#111" >Day 2</text>
<text x="431.00" y="962.70" font-family='"Liberation Serif", serif' font-size="32" text-anchor="middle" fill="#000" >(b) Average Accuracy with Different Methods</text>
<rect x="128.00" y="1097.42" width="57.0" height="114.08" fill="#47dbae"/>
<rect x="199.10" y="1089.60" width="57.0" height="121.90" fill="#fee526"/>
<rect x="270.20" y="1088.22" width="57.0" height="123.28" fill="#f72f50"/>
<rect x="554.60" y="1103.40" width="57.0" height="108.10" fill="#47dbae"/>
<rect x="625.70" y="1102.02" width="57.0" height="109.48" fill="#fee526"/>
<rect x="696.80" y="1085.92" width="57.0" height="125.58" fill="#f72f50"/>
<circle cx="151.0" cy="1037.1" r="3.5" fill="#47dbae" fill-opacity="0.13" stroke="#45806c" stroke-width="1.1"/>
<circle cx="154.3" cy="1050.0" r="3.5" fill="#47dbae" fill-opacity="0.13" stroke="#45806c" stroke-width="1.1"/>
<circle cx="160.0" cy="1057.4" r="3.5" fill="#47dbae" fill-opacity="0.13" stroke="#45806c" stroke-width="1.1"/>
<circle cx="158.6" cy="1067.1" r="3.5" fill="#47dbae" fill-opacity="0.13" stroke="#45806c" stroke-width="1.1"/>
<circle cx="161.9" cy="1073.6" r="3.5" fill="#47dbae" fill-opacity="0.13" stroke="#45806c" stroke-width="1.1"/>
<circle cx="161.4" cy="1084.3" r="3.5" fill="#47dbae" fill-opacity="0.13" stroke="#45806c" stroke-width="1.1"/>
<circle cx="166.4" cy="1090.3" r="3.5" fill="#47dbae" fill-opacity="0.13" stroke="#45806c" stroke-width="1.1"/>
<circle cx="147.9" cy="1092.1" r="3.5" fill="#47dbae" fill-opacity="0.13" stroke="#45806c" stroke-width="1.1"/>
<circle cx="150.4" cy="1092.9" r="3.5" fill="#47dbae" fill-opacity="0.13" stroke="#45806c" stroke-width="1.1"/>
<circle cx="148.6" cy="1101.4" r="3.5" fill="#47dbae" fill-opacity="0.13" stroke="#45806c" stroke-width="1.1"/>
<circle cx="159.3" cy="1103.6" r="3.5" fill="#47dbae" fill-opacity="0.13" stroke="#45806c" stroke-width="1.1"/>
<circle cx="155.3" cy="1105.7" r="3.5" fill="#47dbae" fill-opacity="0.13" stroke="#45806c" stroke-width="1.1"/>
<circle cx="149.0" cy="1117.4" r="3.5" fill="#47dbae" fill-opacity="0.13" stroke="#45806c" stroke-width="1.1"/>
<circle cx="165.3" cy="1119.3" r="3.5" fill="#47dbae" fill-opacity="0.13" stroke="#45806c" stroke-width="1.1"/>
<circle cx="165.7" cy="1121.7" r="3.5" fill="#47dbae" fill-opacity="0.13" stroke="#45806c" stroke-width="1.1"/>
<circle cx="162.4" cy="1130.3" r="3.5" fill="#47dbae" fill-opacity="0.13" stroke="#45806c" stroke-width="1.1"/>
<circle cx="151.4" cy="1133.6" r="3.5" fill="#47dbae" fill-opacity="0.13" stroke="#45806c" stroke-width="1.1"/>
<circle cx="147.9" cy="1169.3" r="3.5" fill="#47dbae" fill-opacity="0.13" stroke="#45806c" stroke-width="1.1"/>
<circle cx="218.6" cy="1037.1" r="3.5" fill="#fee526" fill-opacity="0.16" stroke="#807c4c" stroke-width="1.1"/>
<circle cx="230.0" cy="1041.1" r="3.5" fill="#fee526" fill-opacity="0.16" stroke="#807c4c" stroke-width="1.1"/>
<circle cx="224.3" cy="1056.4" r="3.5" fill="#fee526" fill-opacity="0.16" stroke="#807c4c" stroke-width="1.1"/>
<circle cx="230.7" cy="1063.6" r="3.5" fill="#fee526" fill-opacity="0.16" stroke="#807c4c" stroke-width="1.1"/>
<circle cx="223.3" cy="1068.9" r="3.5" fill="#fee526" fill-opacity="0.16" stroke="#807c4c" stroke-width="1.1"/>
<circle cx="237.9" cy="1076.4" r="3.5" fill="#fee526" fill-opacity="0.16" stroke="#807c4c" stroke-width="1.1"/>
<circle cx="232.9" cy="1082.6" r="3.5" fill="#fee526" fill-opacity="0.16" stroke="#807c4c" stroke-width="1.1"/>
<circle cx="228.1" cy="1083.6" r="3.5" fill="#fee526" fill-opacity="0.16" stroke="#807c4c" stroke-width="1.1"/>
<circle cx="226.1" cy="1086.0" r="3.5" fill="#fee526" fill-opacity="0.16" stroke="#807c4c" stroke-width="1.1"/>
<circle cx="233.3" cy="1094.0" r="3.5" fill="#fee526" fill-opacity="0.16" stroke="#807c4c" stroke-width="1.1"/>
<circle cx="231.4" cy="1097.9" r="3.5" fill="#fee526" fill-opacity="0.16" stroke="#807c4c" stroke-width="1.1"/>
<circle cx="228.1" cy="1098.9" r="3.5" fill="#fee526" fill-opacity="0.16" stroke="#807c4c" stroke-width="1.1"/>
<circle cx="229.3" cy="1112.9" r="3.5" fill="#fee526" fill-opacity="0.16" stroke="#807c4c" stroke-width="1.1"/>
<circle cx="238.1" cy="1121.4" r="3.5" fill="#fee526" fill-opacity="0.16" stroke="#807c4c" stroke-width="1.1"/>
<circle cx="221.9" cy="1132.6" r="3.5" fill="#fee526" fill-opacity="0.16" stroke="#807c4c" stroke-width="1.1"/>
<circle cx="235.7" cy="1131.4" r="3.5" fill="#fee526" fill-opacity="0.16" stroke="#807c4c" stroke-width="1.1"/>
<circle cx="236.7" cy="1162.1" r="3.5" fill="#fee526" fill-opacity="0.16" stroke="#807c4c" stroke-width="1.1"/>
<circle cx="298.6" cy="1035.7" r="3.5" fill="#f72f50" fill-opacity="0.16" stroke="#b47c8a" stroke-width="1.1"/>
<circle cx="295.0" cy="1042.9" r="3.5" fill="#f72f50" fill-opacity="0.16" stroke="#b47c8a" stroke-width="1.1"/>
<circle cx="298.6" cy="1055.7" r="3.5" fill="#f72f50" fill-opacity="0.16" stroke="#b47c8a" stroke-width="1.1"/>
<circle cx="295.7" cy="1060.0" r="3.5" fill="#f72f50" fill-opacity="0.16" stroke="#b47c8a" stroke-width="1.1"/>
<circle cx="302.4" cy="1065.4" r="3.5" fill="#f72f50" fill-opacity="0.16" stroke="#b47c8a" stroke-width="1.1"/>
<circle cx="304.3" cy="1070.7" r="3.5" fill="#f72f50" fill-opacity="0.16" stroke="#b47c8a" stroke-width="1.1"/>
<circle cx="296.1" cy="1076.0" r="3.5" fill="#f72f50" fill-opacity="0.16" stroke="#b47c8a" stroke-width="1.1"/>
<circle cx="302.4" cy="1077.9" r="3.5" fill="#f72f50" fill-opacity="0.16" stroke="#b47c8a" stroke-width="1.1"/>
<circle cx="298.1" cy="1081.1" r="3.5" fill="#f72f50" fill-opacity="0.16" stroke="#b47c8a" stroke-width="1.1"/>
<circle cx="304.7" cy="1091.4" r="3.5" fill="#f72f50" fill-opacity="0.16" stroke="#b47c8a" stroke-width="1.1"/>
<circle cx="297.1" cy="1091.4" r="3.5" fill="#f72f50" fill-opacity="0.16" stroke="#b47c8a" stroke-width="1.1"/>
<circle cx="298.1" cy="1100.7" r="3.5" fill="#f72f50" fill-opacity="0.16" stroke="#b47c8a" stroke-width="1.1"/>
<circle cx="295.7" cy="1105.7" r="3.5" fill="#f72f50" fill-opacity="0.16" stroke="#b47c8a" stroke-width="1.1"/>
<circle cx="305.7" cy="1108.6" r="3.5" fill="#f72f50" fill-opacity="0.16" stroke="#b47c8a" stroke-width="1.1"/>
<circle cx="302.9" cy="1130.0" r="3.5" fill="#f72f50" fill-opacity="0.16" stroke="#b47c8a" stroke-width="1.1"/>
<circle cx="307.9" cy="1137.9" r="3.5" fill="#f72f50" fill-opacity="0.16" stroke="#b47c8a" stroke-width="1.1"/>
<circle cx="294.3" cy="1165.7" r="3.5" fill="#f72f50" fill-opacity="0.16" stroke="#b47c8a" stroke-width="1.1"/>
<circle cx="582.9" cy="1035.4" r="3.5" fill="#47dbae" fill-opacity="0.13" stroke="#45806c" stroke-width="1.1"/>
<circle cx="576.4" cy="1060.7" r="3.5" fill="#47dbae" fill-opacity="0.13" stroke="#45806c" stroke-width="1.1"/>
<circle cx="573.6" cy="1070.3" r="3.5" fill="#47dbae" fill-opacity="0.13" stroke="#45806c" stroke-width="1.1"/>
<circle cx="576.4" cy="1074.0" r="3.5" fill="#47dbae" fill-opacity="0.13" stroke="#45806c" stroke-width="1.1"/>
<circle cx="587.1" cy="1074.0" r="3.5" fill="#47dbae" fill-opacity="0.13" stroke="#45806c" stroke-width="1.1"/>
<circle cx="576.4" cy="1077.9" r="3.5" fill="#47dbae" fill-opacity="0.13" stroke="#45806c" stroke-width="1.1"/>
<circle cx="583.1" cy="1080.0" r="3.5" fill="#47dbae" fill-opacity="0.13" stroke="#45806c" stroke-width="1.1"/>
<circle cx="575.7" cy="1083.6" r="3.5" fill="#47dbae" fill-opacity="0.13" stroke="#45806c" stroke-width="1.1"/>
<circle cx="589.3" cy="1085.7" r="3.5" fill="#47dbae" fill-opacity="0.13" stroke="#45806c" stroke-width="1.1"/>
<circle cx="591.7" cy="1105.0" r="3.5" fill="#47dbae" fill-opacity="0.13" stroke="#45806c" stroke-width="1.1"/>
<circle cx="576.9" cy="1115.4" r="3.5" fill="#47dbae" fill-opacity="0.13" stroke="#45806c" stroke-width="1.1"/>
<circle cx="583.6" cy="1117.9" r="3.5" fill="#47dbae" fill-opacity="0.13" stroke="#45806c" stroke-width="1.1"/>
<circle cx="591.7" cy="1119.3" r="3.5" fill="#47dbae" fill-opacity="0.13" stroke="#45806c" stroke-width="1.1"/>
<circle cx="578.6" cy="1136.4" r="3.5" fill="#47dbae" fill-opacity="0.13" stroke="#45806c" stroke-width="1.1"/>
<circle cx="588.9" cy="1139.3" r="3.5" fill="#47dbae" fill-opacity="0.13" stroke="#45806c" stroke-width="1.1"/>
<circle cx="573.6" cy="1145.7" r="3.5" fill="#47dbae" fill-opacity="0.13" stroke="#45806c" stroke-width="1.1"/>
<circle cx="572.9" cy="1153.6" r="3.5" fill="#47dbae" fill-opacity="0.13" stroke="#45806c" stroke-width="1.1"/>
<circle cx="591.4" cy="1185.7" r="3.5" fill="#47dbae" fill-opacity="0.13" stroke="#45806c" stroke-width="1.1"/>
<circle cx="656.4" cy="1032.9" r="3.5" fill="#fee526" fill-opacity="0.16" stroke="#807c4c" stroke-width="1.1"/>
<circle cx="655.7" cy="1049.3" r="3.5" fill="#fee526" fill-opacity="0.16" stroke="#807c4c" stroke-width="1.1"/>
<circle cx="649.3" cy="1052.6" r="3.5" fill="#fee526" fill-opacity="0.16" stroke="#807c4c" stroke-width="1.1"/>
<circle cx="660.3" cy="1055.0" r="3.5" fill="#fee526" fill-opacity="0.16" stroke="#807c4c" stroke-width="1.1"/>
<circle cx="650.7" cy="1065.4" r="3.5" fill="#fee526" fill-opacity="0.16" stroke="#807c4c" stroke-width="1.1"/>
<circle cx="646.4" cy="1075.0" r="3.5" fill="#fee526" fill-opacity="0.16" stroke="#807c4c" stroke-width="1.1"/>
<circle cx="663.6" cy="1082.6" r="3.5" fill="#fee526" fill-opacity="0.16" stroke="#807c4c" stroke-width="1.1"/>
<circle cx="653.6" cy="1086.4" r="3.5" fill="#fee526" fill-opacity="0.16" stroke="#807c4c" stroke-width="1.1"/>
<circle cx="654.0" cy="1089.7" r="3.5" fill="#fee526" fill-opacity="0.16" stroke="#807c4c" stroke-width="1.1"/>
<circle cx="660.7" cy="1114.3" r="3.5" fill="#fee526" fill-opacity="0.16" stroke="#807c4c" stroke-width="1.1"/>
<circle cx="658.6" cy="1125.7" r="3.5" fill="#fee526" fill-opacity="0.16" stroke="#807c4c" stroke-width="1.1"/>
<circle cx="657.9" cy="1129.3" r="3.5" fill="#fee526" fill-opacity="0.16" stroke="#807c4c" stroke-width="1.1"/>
<circle cx="643.6" cy="1132.9" r="3.5" fill="#fee526" fill-opacity="0.16" stroke="#807c4c" stroke-width="1.1"/>
<circle cx="646.0" cy="1139.3" r="3.5" fill="#fee526" fill-opacity="0.16" stroke="#807c4c" stroke-width="1.1"/>
<circle cx="646.4" cy="1150.7" r="3.5" fill="#fee526" fill-opacity="0.16" stroke="#807c4c" stroke-width="1.1"/>
<circle cx="658.6" cy="1164.3" r="3.5" fill="#fee526" fill-opacity="0.16" stroke="#807c4c" stroke-width="1.1"/>
<circle cx="661.4" cy="1200.3" r="3.5" fill="#fee526" fill-opacity="0.16" stroke="#807c4c" stroke-width="1.1"/>
<circle cx="717.1" cy="1032.1" r="3.5" fill="#f72f50" fill-opacity="0.16" stroke="#b47c8a" stroke-width="1.1"/>
<circle cx="731.4" cy="1049.3" r="3.5" fill="#f72f50" fill-opacity="0.16" stroke="#b47c8a" stroke-width="1.1"/>
<circle cx="720.0" cy="1053.6" r="3.5" fill="#f72f50" fill-opacity="0.16" stroke="#b47c8a" stroke-width="1.1"/>
<circle cx="732.6" cy="1055.0" r="3.5" fill="#f72f50" fill-opacity="0.16" stroke="#b47c8a" stroke-width="1.1"/>
<circle cx="715.7" cy="1056.4" r="3.5" fill="#f72f50" fill-opacity="0.16" stroke="#b47c8a" stroke-width="1.1"/>
<circle cx="717.1" cy="1057.4" r="3.5" fill="#f72f50" fill-opacity="0.16" stroke="#b47c8a" stroke-width="1.1"/>
<circle cx="726.4" cy="1061.7" r="3.5" fill="#f72f50" fill-opacity="0.16" stroke="#b47c8a" stroke-width="1.1"/>
<circle cx="728.6" cy="1070.3" r="3.5" fill="#f72f50" fill-opacity="0.16" stroke="#b47c8a" stroke-width="1.1"/>
<circle cx="727.4" cy="1076.4" r="3.5" fill="#f72f50" fill-opacity="0.16" stroke="#b47c8a" stroke-width="1.1"/>
<circle cx="719.3" cy="1080.0" r="3.5" fill="#f72f50" fill-opacity="0.16" stroke="#b47c8a" stroke-width="1.1"/>
<circle cx="723.6" cy="1093.6" r="3.5" fill="#f72f50" fill-opacity="0.16" stroke="#b47c8a" stroke-width="1.1"/>
<circle cx="730.0" cy="1106.4" r="3.5" fill="#f72f50" fill-opacity="0.16" stroke="#b47c8a" stroke-width="1.1"/>
<circle cx="730.3" cy="1111.4" r="3.5" fill="#f72f50" fill-opacity="0.16" stroke="#b47c8a" stroke-width="1.1"/>
<circle cx="730.7" cy="1117.1" r="3.5" fill="#f72f50" fill-opacity="0.16" stroke="#b47c8a" stroke-width="1.1"/>
<circle cx="727.9" cy="1125.7" r="3.5" fill="#f72f50" fill-opacity="0.16" stroke="#b47c8a" stroke-width="1.1"/>
<circle cx="726.4" cy="1132.9" r="3.5" fill="#f72f50" fill-opacity="0.16" stroke="#b47c8a" stroke-width="1.1"/>
<circle cx="733.6" cy="1133.6" r="3.5" fill="#f72f50" fill-opacity="0.16" stroke="#b47c8a" stroke-width="1.1"/>
<line x1="156.50" y1="1064.76" x2="156.50" y2="1130.08" stroke="#1a1a1a" stroke-width="1.4" />
<line x1="152.90" y1="1064.76" x2="160.10" y2="1064.76" stroke="#1a1a1a" stroke-width="1.4" />
<line x1="152.90" y1="1130.08" x2="160.10" y2="1130.08" stroke="#1a1a1a" stroke-width="1.4" />
<line x1="227.60" y1="1056.48" x2="227.60" y2="1122.72" stroke="#1a1a1a" stroke-width="1.4" />
<line x1="224.00" y1="1056.48" x2="231.20" y2="1056.48" stroke="#1a1a1a" stroke-width="1.4" />
<line x1="224.00" y1="1122.72" x2="231.20" y2="1122.72" stroke="#1a1a1a" stroke-width="1.4" />
<line x1="298.70" y1="1054.64" x2="298.70" y2="1121.80" stroke="#1a1a1a" stroke-width="1.4" />
<line x1="295.10" y1="1054.64" x2="302.30" y2="1054.64" stroke="#1a1a1a" stroke-width="1.4" />
<line x1="295.10" y1="1121.80" x2="302.30" y2="1121.80" stroke="#1a1a1a" stroke-width="1.4" />
<line x1="583.10" y1="1064.76" x2="583.10" y2="1142.04" stroke="#1a1a1a" stroke-width="1.4" />
<line x1="579.50" y1="1064.76" x2="586.70" y2="1064.76" stroke="#1a1a1a" stroke-width="1.4" />
<line x1="579.50" y1="1142.04" x2="586.70" y2="1142.04" stroke="#1a1a1a" stroke-width="1.4" />
<line x1="654.20" y1="1056.48" x2="654.20" y2="1147.56" stroke="#1a1a1a" stroke-width="1.4" />
<line x1="650.60" y1="1056.48" x2="657.80" y2="1056.48" stroke="#1a1a1a" stroke-width="1.4" />
<line x1="650.60" y1="1147.56" x2="657.80" y2="1147.56" stroke="#1a1a1a" stroke-width="1.4" />
<line x1="725.30" y1="1045.90" x2="725.30" y2="1125.94" stroke="#1a1a1a" stroke-width="1.4" />
<line x1="721.70" y1="1045.90" x2="728.90" y2="1045.90" stroke="#1a1a1a" stroke-width="1.4" />
<line x1="721.70" y1="1125.94" x2="728.90" y2="1125.94" stroke="#1a1a1a" stroke-width="1.4" />
<text x="156.50" y="1169.60" font-family='"Liberation Sans", sans-serif' font-size="23" text-anchor="middle" fill="#111111" >84.8</text>
<text x="156.50" y="1198.40" font-family='"Liberation Sans", sans-serif' font-size="23" text-anchor="middle" fill="#111111" >±7.1</text>
<text x="227.60" y="1169.60" font-family='"Liberation Sans", sans-serif' font-size="23" text-anchor="middle" fill="#111111" >86.5</text>
<text x="227.60" y="1198.40" font-family='"Liberation Sans", sans-serif' font-size="23" text-anchor="middle" fill="#111111" >±7.2</text>
<text x="298.70" y="1169.60" font-family='"Liberation Sans", sans-serif' font-size="23" text-anchor="middle" fill="#ffffff" >86.8</text>
<text x="298.70" y="1198.40" font-family='"Liberation Sans", sans-serif' font-size="23" text-anchor="middle" fill="#ffffff" >±7.3</text>
<text x="583.10" y="1169.60" font-family='"Liberation Sans", sans-serif' font-size="23" text-anchor="middle" fill="#111111" >83.5</text>
<text x="583.10" y="1198.40" font-family='"Liberation Sans", sans-serif' font-size="23" text-anchor="middle" fill="#111111" >±8.4</text>
<text x="654.20" y="1169.60" font-family='"Liberation Sans", sans-serif' font-size="23" text-anchor="middle" fill="#111111" >83.8</text>
<text x="654.20" y="1198.40" font-family='"Liberation Sans", sans-serif' font-size="23" text-anchor="middle" fill="#111111" >±9.9</text>
<text x="725.30" y="1169.60" font-family='"Liberation Sans", sans-serif' font-size="23" text-anchor="middle" fill="#ffffff" >87.3</text>
<text x="725.30" y="1198.40" font-family='"Liberation Sans", sans-serif' font-size="23" text-anchor="middle" fill="#ffffff" >±8.7</text>
<line x1="156.50" y1="996.70" x2="298.70" y2="996.70" stroke="#1a1a1a" stroke-width="1.3" />
<g stroke="#222" stroke-width="0.95"><line x1="224.60" y1="990.70" x2="230.60" y2="990.70"/><line x1="227.60" y1="987.70" x2="227.60" y2="993.70"/><line x1="225.50" y1="988.60" x2="229.70" y2="992.80"/><line x1="225.50" y1="992.80" x2="229.70" y2="988.60"/></g>
<line x1="156.50" y1="1014.50" x2="227.60" y2="1014.50" stroke="#1a1a1a" stroke-width="1.3" />
<g stroke="#222" stroke-width="0.95"><line x1="189.05" y1="1008.50" x2="195.05" y2="1008.50"/><line x1="192.05" y1="1005.50" x2="192.05" y2="1011.50"/><line x1="189.95" y1="1006.40" x2="194.15" y2="1010.60"/><line x1="189.95" y1="1010.60" x2="194.15" y2="1006.40"/></g>
<line x1="583.10" y1="1014.00" x2="725.30" y2="1014.00" stroke="#1a1a1a" stroke-width="1.3" />
<g stroke="#222" stroke-width="0.95"><line x1="651.20" y1="1008.00" x2="657.20" y2="1008.00"/><line x1="654.20" y1="1005.00" x2="654.20" y2="1011.00"/><line x1="652.10" y1="1005.90" x2="656.30" y2="1010.10"/><line x1="652.10" y1="1010.10" x2="656.30" y2="1005.90"/></g>
<line x1="476.50" y1="985.00" x2="476.50" y2="1211.50" stroke="#3a3a3a" stroke-width="2.5" stroke-dasharray="9 9.2" stroke-dashoffset="1.3"/>
<line x1="71.70" y1="984.40" x2="71.70" y2="1212.10" stroke="#1a1a1a" stroke-width="1.3" />
<line x1="71.10" y1="1211.50" x2="810.00" y2="1211.50" stroke="#1a1a1a" stroke-width="1.3" />
<line x1="71.70" y1="1211.50" x2="79.20" y2="1211.50" stroke="#1a1a1a" stroke-width="1.2" />
<text x="65.00" y="1218.10" font-family='"Liberation Serif", serif' font-size="20" text-anchor="end" fill="#111" >60</text>
<line x1="71.70" y1="1165.50" x2="79.20" y2="1165.50" stroke="#1a1a1a" stroke-width="1.2" />
<text x="65.00" y="1172.10" font-family='"Liberation Serif", serif' font-size="20" text-anchor="end" fill="#111" >70</text>
<line x1="71.70" y1="1119.50" x2="79.20" y2="1119.50" stroke="#1a1a1a" stroke-width="1.2" />
<text x="65.00" y="1126.10" font-family='"Liberation Serif", serif' font-size="20" text-anchor="end" fill="#111" >80</text>
<line x1="71.70" y1="1073.50" x2="79.20" y2="1073.50" stroke="#1a1a1a" stroke-width="1.2" />
<text x="65.00" y="1080.10" font-family='"Liberation Serif", serif' font-size="20" text-anchor="end" fill="#111" >90</text>
<line x1="71.70" y1="1027.50" x2="79.20" y2="1027.50" stroke="#1a1a1a" stroke-width="1.2" />
<text x="65.00" y="1034.10" font-family='"Liberation Serif", serif' font-size="20" text-anchor="end" fill="#111" >100</text>
<line x1="156.50" y1="1211.50" x2="156.50" y2="1204.50" stroke="#1a1a1a" stroke-width="1.2" />
<line x1="227.60" y1="1211.50" x2="227.60" y2="1204.50" stroke="#1a1a1a" stroke-width="1.2" />
<line x1="298.70" y1="1211.50" x2="298.70" y2="1204.50" stroke="#1a1a1a" stroke-width="1.2" />
<line x1="583.10" y1="1211.50" x2="583.10" y2="1204.50" stroke="#1a1a1a" stroke-width="1.2" />
<line x1="654.20" y1="1211.50" x2="654.20" y2="1204.50" stroke="#1a1a1a" stroke-width="1.2" />
<line x1="725.30" y1="1211.50" x2="725.30" y2="1204.50" stroke="#1a1a1a" stroke-width="1.2" />
<text x="166.50" y="1236.00" font-family='"Liberation Serif", serif' font-size="20.6" text-anchor="end" fill="#111" transform="rotate(-30 166.50 1236.00)">Remove Clustering</text>
<text x="237.60" y="1236.00" font-family='"Liberation Serif", serif' font-size="20.6" text-anchor="end" fill="#111" transform="rotate(-30 237.60 1236.00)">Remove t-SNE</text>
<text x="308.70" y="1236.00" font-family='"Liberation Serif", serif' font-size="20.6" text-anchor="end" fill="#111" transform="rotate(-30 308.70 1236.00)">All Components</text>
<text x="593.10" y="1236.00" font-family='"Liberation Serif", serif' font-size="20.6" text-anchor="end" fill="#111" transform="rotate(-30 593.10 1236.00)">Remove Clustering</text>
<text x="664.20" y="1236.00" font-family='"Liberation Serif", serif' font-size="20.6" text-anchor="end" fill="#111" transform="rotate(-30 664.20 1236.00)">Remove t-SNE</text>
<text x="735.30" y="1236.00" font-family='"Liberation Serif", serif' font-size="20.6" text-anchor="end" fill="#111" transform="rotate(-30 735.30 1236.00)">All Components</text>
<text x="27.50" y="1099.00" font-family='"Liberation Serif", serif' font-size="21" text-anchor="middle" fill="#111" transform="rotate(-90 27.5 1099)">Accuracy (%)</text>
<text x="157.50" y="1034.50" font-family='"Liberation Sans", sans-serif' font-size="18" text-anchor="start" fill="#111" >Day 1</text>
<text x="512.30" y="1034.50" font-family='"Liberation Sans", sans-serif' font-size="18" text-anchor="start" fill="#111" >Day 2</text>
<text x="428.50" y="1346.00" font-family='"Liberation Serif", serif' font-size="32" text-anchor="middle" fill="#000" >(c) Average Accuracy in Ablation Experiment</text>
</svg>
</body></html>
